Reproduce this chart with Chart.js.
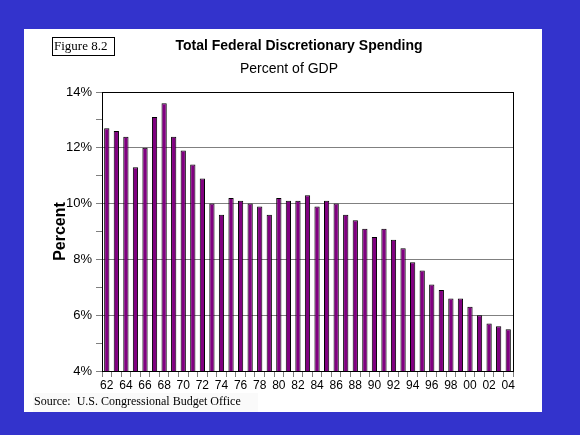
<!DOCTYPE html>
<html lang="en">
<head>
    <meta charset="UTF-8">
    <title>Total Federal Discretionary Spending</title>
    <script src="https://cdn.jsdelivr.net/npm/chart.js"></script>
    <style>
        body { margin: 0; background: #3333cc; }
    </style>
</head>
<body>
    <canvas id="spendChart" width="580" height="435"></canvas>
    <script>
        const years = ['62','63','64','65','66','67','68','69','70','71','72','73','74','75','76','77','78','79','80','81','82','83',
                       '84','85','86','87','88','89','90','91','92','93','94','95','96','97','98','99','00','01','02','03','04'];
        const pctGdp = [12.7,12.6,12.4,11.3,12.0,13.1,13.6,12.4,11.9,11.4,10.9,10.0,9.6,10.2,10.1,10.0,9.9,9.6,10.2,10.1,10.1,10.3,
                        9.9,10.1,10.0,9.6,9.4,9.1,8.8,9.1,8.7,8.4,7.9,7.6,7.1,6.9,6.6,6.6,6.3,6.0,5.7,5.6,5.5];
        const yMin = 4, yMax = 14;

        // background panel, frame and the loose texts
        const decor = {
            id: 'decor',
            beforeDraw(chart) {
                const c = chart.ctx;
                c.save();
                c.fillStyle = '#3333cc';
                c.fillRect(0, 0, chart.width, chart.height);
                c.fillStyle = '#ffffff';
                c.fillRect(24, 29, 518, 383);
                c.fillStyle = '#fafafa';
                c.fillRect(33, 393, 225, 19);
                c.restore();
            },
            afterDraw(chart) {
                const c = chart.ctx;
                const a = chart.chartArea;
                c.save();
                c.strokeStyle = '#000';
                c.lineWidth = 1;
                c.strokeRect(Math.round(a.left) + 0.5, Math.round(a.top) + 0.5,
                             Math.round(a.right - a.left), Math.round(a.bottom - a.top));

                c.strokeRect(52.5, 37.5, 62, 18);
                c.fillStyle = '#000';
                c.font = '13px "Liberation Serif", "Times New Roman", serif';
                c.textBaseline = 'middle';
                c.textAlign = 'left';
                c.fillText('Figure 8.2', 54, 47);

                c.font = '12px "Liberation Serif", "Times New Roman", serif';
                c.fillText('Source:  U.S. Congressional Budget Office', 34, 402);

                c.textAlign = 'center';
                c.textBaseline = 'alphabetic';
                c.font = 'bold 14px "Liberation Sans", Arial, sans-serif';
                c.fillText('Total Federal Discretionary Spending', 299, 50);
                c.font = '14px "Liberation Sans", Arial, sans-serif';
                c.fillText('Percent of GDP', 289, 73);
                c.restore();
            }
        };

        const ctx = document.getElementById('spendChart').getContext('2d');
        new Chart(ctx, {
            type: 'bar',
            data: {
                labels: years,
                datasets: [{
                    label: 'Percent of GDP',
                    data: pctGdp,
                    backgroundColor: '#800080',
                    borderColor: '#000000',
                    borderWidth: 1,
                    barPercentage: 0.55,
                    categoryPercentage: 1.0
                }]
            },
            options: {
                responsive: false,
                animation: false,
                layout: { padding: { left: 24, right: 67, top: 92, bottom: 39 } },
                plugins: {
                    legend: { display: false },
                    tooltip: { enabled: false }
                },
                scales: {
                    x: {
                        grid: { offset: true, drawOnChartArea: false, tickLength: 6, tickColor: '#808080' },
                        border: { color: '#000000' },
                        ticks: {
                            autoSkip: false,
                            maxRotation: 0,
                            padding: 1,
                            color: '#000',
                            font: { family: '"Liberation Sans", Arial, sans-serif', size: 12 },
                            callback: (v, i) => i % 2 === 0 ? years[i] : ''
                        },
                        afterFit: s => { s.height = 25; }
                    },
                    y: {
                        min: yMin,
                        max: yMax,
                        grid: {
                            color: c => (c.tick && c.tick.value % 2 === 0) ? '#808080' : 'rgba(0,0,0,0)',
                            tickColor: '#808080',
                            tickLength: 6
                        },
                        border: { color: '#000000' },
                        ticks: {
                            stepSize: 1,
                            padding: 4,
                            color: '#000',
                            font: { family: '"Liberation Sans", Arial, sans-serif', size: 13 },
                            callback: v => v % 2 === 0 ? v + '%' : ''
                        },
                        title: {
                            display: true,
                            text: 'Percent',
                            color: '#000',
                            font: { family: '"Liberation Sans", Arial, sans-serif', size: 16, weight: 'bold' },
                            padding: { top: 27, bottom: 0 }
                        },
                        afterFit: s => { s.width = 78; }
                    }
                }
            },
            plugins: [decor]
        });
    </script>
</body>
</html>
